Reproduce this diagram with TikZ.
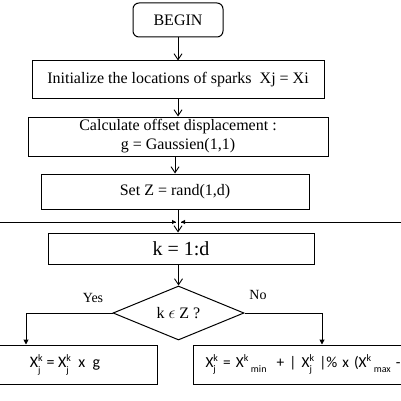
\documentclass[tikz,border=0pt]{standalone}
\usepackage{fontspec}
\setmainfont{Liberation Serif}
\newfontfamily\calfont{Carlito}
\usetikzlibrary{arrows.meta,shapes.geometric}
\newcommand{\scr}[1]{{\fontsize{10}{10}\selectfont #1}}
\newcommand{\Xjk}{X\rlap{\raisebox{0.42em}{\scr{k}}}\raisebox{-0.32em}{\scr{j}}\hspace{0.15em}}
\tikzset{
  box/.style={draw,line width=1pt,inner sep=0pt,font=\fontsize{16}{19}\selectfont},
  arr/.style={line width=0.9pt,-{Straight Barb[length=6pt,width=8pt]}},
  tri/.style={line width=1pt,-{Triangle[length=5pt,width=5pt]}},
  small/.style={line width=1pt,-{Triangle[length=4pt,width=4pt]}},
  lbl/.style={font=\fontsize{14}{16}\selectfont}
}
\begin{document}
\begin{tikzpicture}[x=1pt,y=-1pt]
\useasboundingbox (0,0) rectangle (401,401);
\clip (0,0) rectangle (401,401);
\node[box,rounded corners=6pt,minimum width=90pt,minimum height=34pt] (begin) at (178,20) {BEGIN};
\node[box,minimum width=292pt,minimum height=38pt] (init) at (178,80) {Initialize the locations of sparks\ \ Xj = Xi};
\node[box,minimum width=300pt,minimum height=39pt,align=center] (calc) at (178,136.5) {Calculate offset displacement :\\g = Gaussien(1,1)};
\node[box,minimum width=268pt,minimum height=35pt] (set) at (175,191.5) {Set Z = rand(1,d)};
\node[box,minimum width=266pt,minimum height=31pt,font=\fontsize{20}{22}\selectfont] (kbox) at (181,248.5) {k = 1:d};
\node[draw,line width=1pt,diamond,inner sep=0pt,aspect=2.43,minimum width=131pt,minimum height=54pt,font=\fontsize{16}{19}\selectfont] (dia) at (178.5,313) {k $\epsilon$ Z ?};
\node[box,minimum width=184pt,minimum height=39pt,font=\calfont\fontsize{16}{19}\selectfont] (lbox) at (65,364.5) {\Xjk{} = \Xjk\ \ x\ \ g};
\node[box,anchor=west,text width=243pt,inner xsep=12pt,minimum height=39pt,align=left,font=\calfont\fontsize{15.3}{18}\selectfont] (rbox) at (193,364.5) {\Xjk{} = X\raisebox{0.42em}{\scr{k}}\,\raisebox{-0.32em}{\scr{min}}\ \ + | \Xjk{} |\% x (X\raisebox{0.42em}{\scr{k}}\,\raisebox{-0.32em}{\scr{max}} -};
\node[lbl] (yes) at (93,298) {Yes};
\node[lbl] (no) at (258,295) {No};
\coordinate (hl) at (0,222);
\coordinate (hr) at (401,222);
\coordinate (hcl) at (176,222);
\coordinate (hcr) at (181,222);
\draw[arr] (begin.south) -- (begin.south |- init.north);
\draw[arr] (init.south) -- (init.south |- calc.north);
\draw[arr] (set.north |- calc.south) -- (set.north);
\draw[arr] (set.south -| 178,0) -- (kbox.north -| 178,0);
\draw[line width=1pt] (hl) -- (hcl);
\draw[line width=1pt] (hr) -- (hcr);
\draw[small] (170,222) -- (hcl);
\draw[small] (187,222) -- (hcr);
\draw[arr] (kbox.south -| dia.north) -- (dia.north);
\draw[tri] (dia.west) -| (26,0 |- lbox.north);
\draw[tri] (dia.east) -| (322,0 |- rbox.north);
\end{tikzpicture}
\end{document}
